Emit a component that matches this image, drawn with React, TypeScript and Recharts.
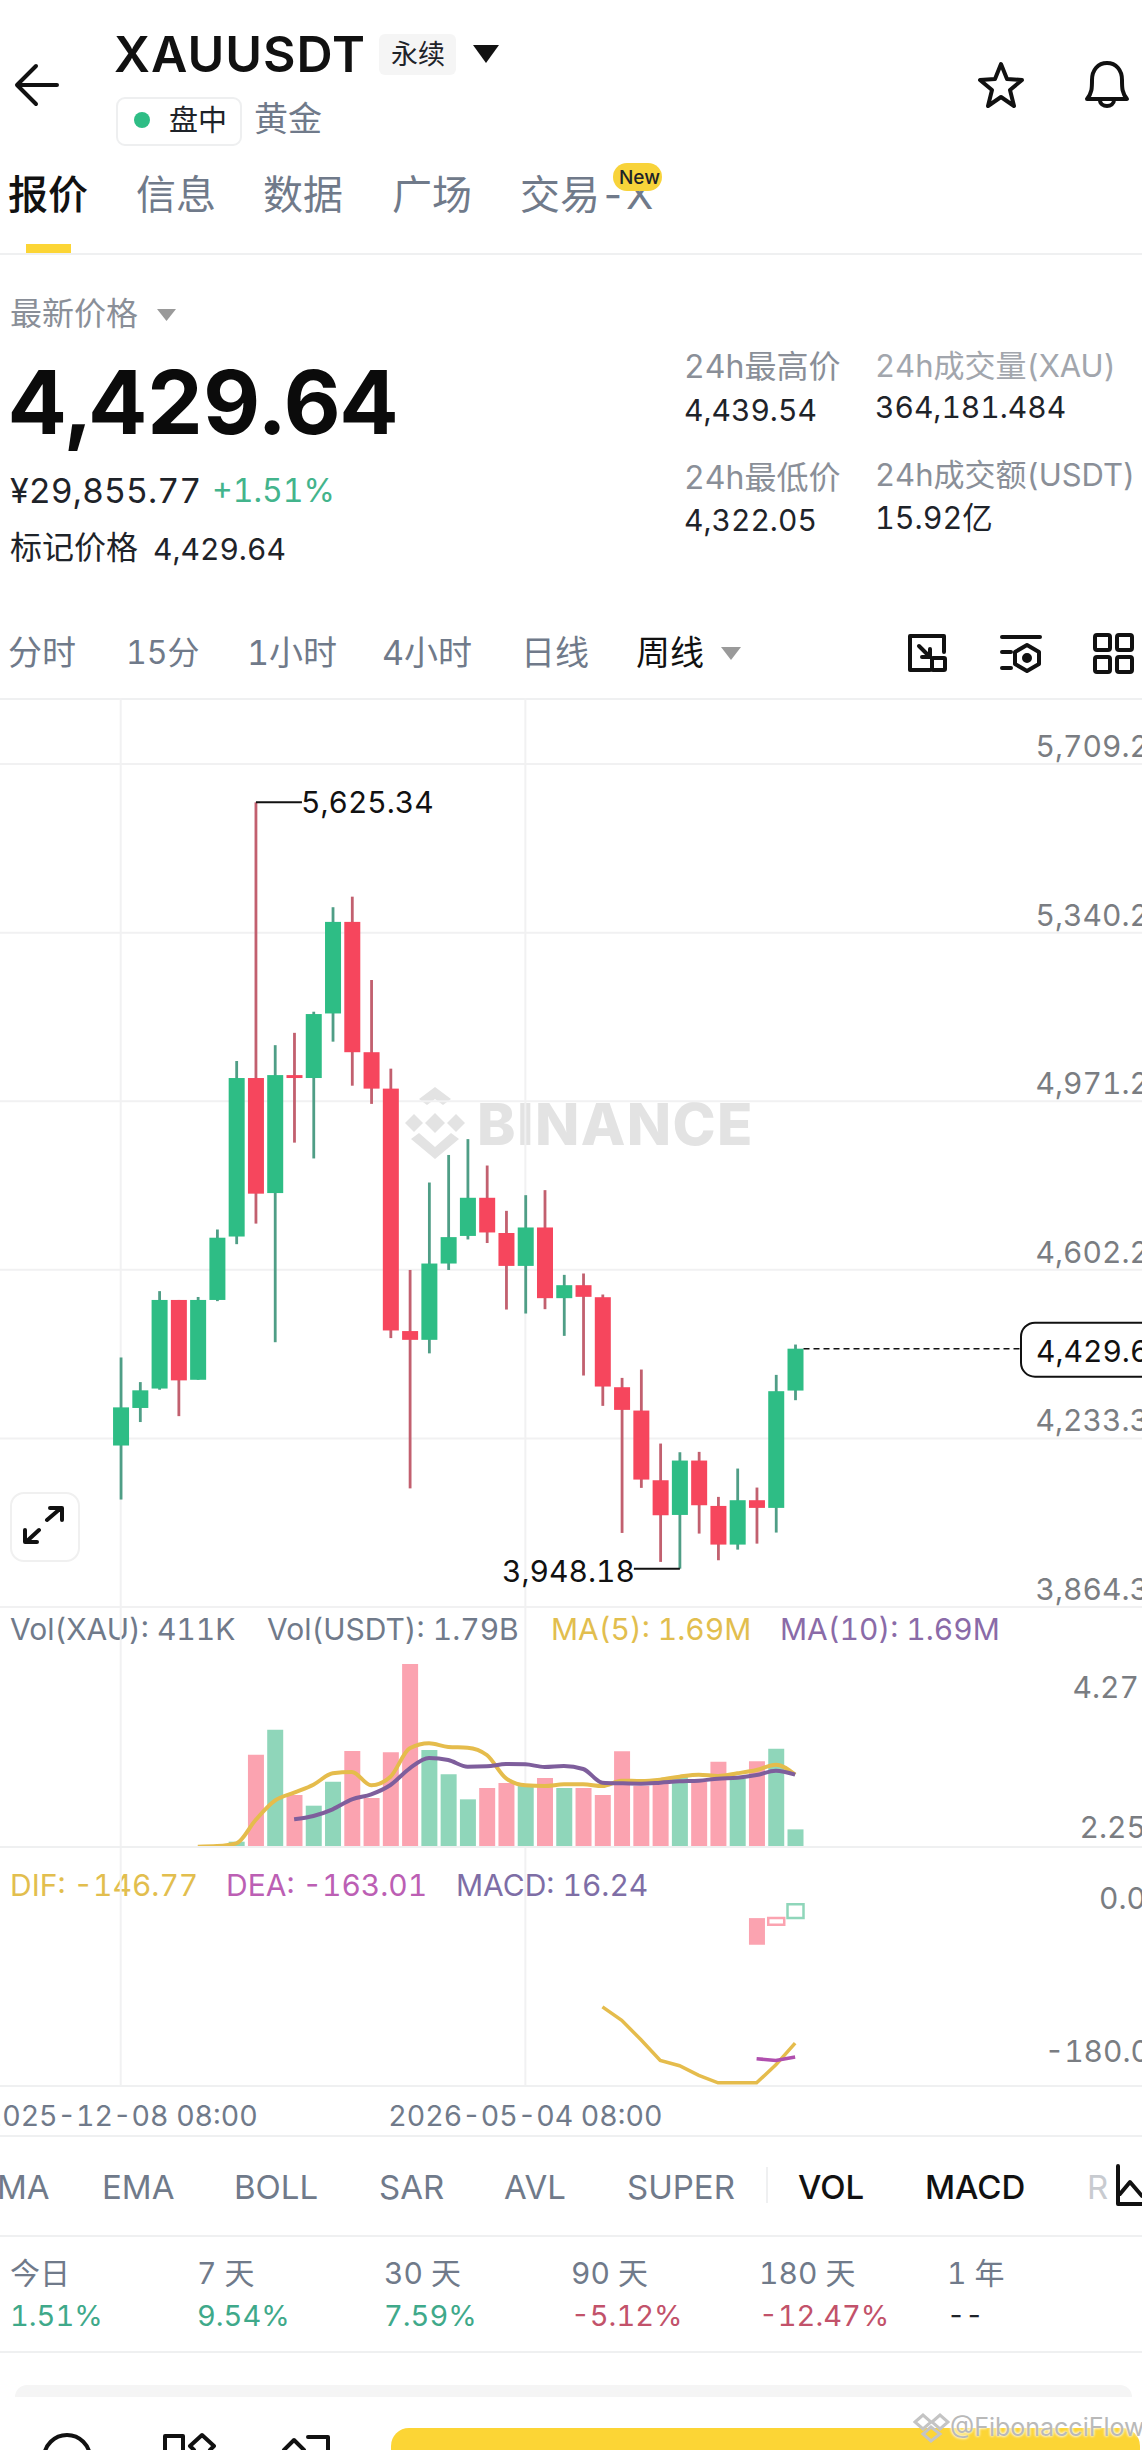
import React from 'react';
import {
    ComposedChart, Bar, Line, XAxis, YAxis, CartesianGrid, Cell,
} from 'recharts';

// weekly candles, first one is the week of 2025-12-08
const opens = [4217.7, 4299.9, 4342.4, 4536.3, 4361.6, 4536.3, 4675.1, 5022, 4770.2, 5028.4, 5022, 5163.3, 5363.7, 5078.5, 4998.8, 4468.2, 4449, 4616, 4676.4, 4759.9, 4682.8, 4610.8, 4694.9, 4540.2, 4568.6, 4542.3, 4345.3, 4294.2, 4141.7, 4065.8, 4184.8, 4085.5, 4000.9, 4098, 4081.2, 4338];
const highs = [4410.4, 4356.5, 4555.6, 4536.3, 4542.8, 4690.5, 5059.2, 5625.34, 5093.9, 5120.9, 5167.1, 5395.8, 5418.9, 5236.5, 5042.5, 4601.9, 4793.3, 4853.6, 4888.3, 4830.5, 4731.3, 4765.6, 4776.6, 4591.2, 4594.2, 4548.2, 4365.7, 4384, 4222, 4203, 4203.8, 4105.3, 4167.3, 4125.7, 4372.3, 4438.7];
const lows = [4099.5, 4269.1, 4339.8, 4282, 4361.6, 4533.7, 4658.4, 4703.4, 4443.8, 4880.6, 4846, 5101.6, 5005.2, 4965.4, 4452.8, 4123.9, 4419.4, 4601.9, 4668.7, 4660.9, 4515.3, 4506.6, 4516.1, 4457.7, 4370.9, 4304.5, 4026.4, 4125, 3963, 3948.18, 4025, 3966.6, 3989.9, 4003, 4027.2, 4316.9];
const closes = [4301.2, 4338.5, 4536.3, 4360.3, 4536.3, 4672.5, 5022, 4768.9, 5028.4, 5022, 5162, 5363.7, 5078.5, 4998.8, 4469.5, 4449, 4616, 4673.8, 4759.9, 4684, 4610.8, 4694.9, 4540.2, 4568.6, 4543.1, 4346.8, 4295.7, 4143.2, 4065.1, 4184.8, 4087, 4000.9, 4098, 4081.2, 4336.6, 4429.64];

const volumes = [2250, 4000, 6000, 8000, 10000, 14000, 124000, 2155000, 2738000, 1213000, 964000, 1525000, 2240000, 1143000, 2209000, 4270000, 2263000, 1696000, 1112000, 1377000, 1493000, 1431000, 1610000, 1377000, 1377000, 1213000, 2232000, 1431000, 1486000, 1641000, 1525000, 1991000, 1602000, 1999000, 2295000, 411000];
const ma5 = [null, null, null, null, 8000, 23000, 86000, 630000, 1081000, 1268000, 1454000, 1719000, 1750000, 1439000, 1641000, 2302000, 2419000, 2333000, 2318000, 2147000, 1602000, 1439000, 1423000, 1462000, 1462000, 1423000, 1548000, 1540000, 1571000, 1641000, 1688000, 1657000, 1719000, 1797000, 1921000, 1690000];
const ma10 = [null, null, null, null, null, null, null, null, null, 646000, 723000, 879000, 1112000, 1229000, 1447000, 1836000, 2077000, 2030000, 1874000, 1882000, 1937000, 1929000, 1867000, 1890000, 1820000, 1501000, 1486000, 1478000, 1501000, 1532000, 1548000, 1594000, 1618000, 1680000, 1781000, 1690000];

const dif = [null, null, null, null, null, null, null, null, null, null, null, null, null, null, null, null, null, null, null, null, null, null, null, null, null, -104.3, -120, -142.9, -167.2, -173.4, -184.7, -193.5, -193.5, -193.5, -172.3, -146.77];
const dea = [null, null, null, null, null, null, null, null, null, null, null, null, null, null, null, null, null, null, null, null, null, null, null, null, null, null, null, null, null, null, null, null, null, -165.1, -167.2, -163.01];
const macd = [null, null, null, null, null, null, null, null, null, null, null, null, null, null, null, null, null, null, null, null, null, null, null, null, null, null, null, null, null, null, null, null, null, -31.3, -7.8, 16.24];

const xTicks = [0, 21];
const xTickLabels = ['2025-12-08 08:00', '2026-05-04 08:00'];
const priceTicks = [5709.2, 5340.2, 4971.2, 4602.2, 4233.3, 3864.3];
const volTicks = [4270000, 2250];
const volTickLabels = ['4.27', '2.25'];
const macdTicks = [0, -180];
const macdTickLabels = ['0.0', '-180.0'];

const UP = '#2EBD85';
const DOWN = '#F6465D';
const UP_WICK = '#4F9E86';
const DOWN_WICK = '#C2606F';
const UP_SOFT = '#8FD6BA';
const DOWN_SOFT = '#FBA3B0';
const GRID = '#F1F1F2';
const GREY = '#707A8A';
const AXIS_GREY = '#7A7D82';
const LATIN = 'Inter, "Noto Sans CJK SC", sans-serif';
const TAB = { fontVariantNumeric: 'tabular-nums' };

const candles = opens.map((open, i) => ({ i, open, high: highs[i], low: lows[i], close: closes[i] }));
const volumeRows = volumes.map((vol, i) => ({ i, vol, ma5: ma5[i], ma10: ma10[i], up: closes[i] >= opens[i] }));
const macdRows = macd.map((m, i) => ({ i, m, dif: dif[i], dea: dea[i] }));

const X_DOMAIN: [number, number] = [-6.263, 53];
const LAST = candles.length - 1;
const HIGH_IDX = highs.indexOf(Math.max(...highs));
const LOW_IDX = lows.indexOf(Math.min(...lows));

const Candle = (props: any) => {
    const { x, y, width, height, payload } = props;
    const unit = height / (payload.high - payload.low);
    const py = (v: number) => y + (payload.high - v) * unit;
    const up = payload.close >= payload.open;
    const cx = x + width / 2;
    const top = py(Math.max(payload.open, payload.close));
    const bottom = py(Math.min(payload.open, payload.close));
    return (
        <g>
            <rect x={cx - 1.4} y={y} width={2.8} height={height} fill={up ? UP_WICK : DOWN_WICK} />
            <rect x={x} y={top} width={width} height={Math.max(bottom - top, 2)} fill={up ? UP : DOWN} />
            {payload.i === HIGH_IDX && (
                <g>
                    <line x1={cx} x2={cx + 46} y1={y} y2={y} stroke="#111" strokeWidth={2} />
                    <text x={cx + 45} y={y} dominantBaseline="central" fontFamily={LATIN} fontSize={30} fill="#111" style={TAB}>
                        {payload.high.toLocaleString('en-US')}
                    </text>
                </g>
            )}
            {payload.i === LOW_IDX && (
                <g>
                    <line x1={cx - 46} x2={cx} y1={y + height} y2={y + height} stroke="#111" strokeWidth={2} />
                    <text x={cx - 45} y={y + height + 2} textAnchor="end" dominantBaseline="central" fontFamily={LATIN} fontSize={30} fill="#111" style={TAB}>
                        {payload.low.toLocaleString('en-US')}
                    </text>
                </g>
            )}
            {payload.i === LAST && (
                <g>
                    <line x1={cx + 8} x2={1020} y1={top} y2={top} stroke="#111" strokeWidth={1.6} strokeDasharray="6 4" />
                    <rect x={1021} y={top - 26} width={170} height={54} rx={14} fill="#fff" stroke="#111" strokeWidth={2} />
                    <text x={1036} y={top + 2} dominantBaseline="central" fontFamily={LATIN} fontSize={30} fill="#111" style={TAB}>
                        {payload.close.toLocaleString('en-US')}
                    </text>
                </g>
            )}
        </g>
    );
};

// axis labels sit above their line, and run off the right edge of the screen
const axisTick = (labels: string[], ends: number[], offsets: number[], ticks: number[]) => (p: any) => {
    const k = ticks.indexOf(p.payload.value);
    return (
        <text x={ends[k]} y={p.y + offsets[k]} textAnchor="end" dominantBaseline="central" fontFamily={LATIN} fontSize={30} fill={AXIS_GREY} style={TAB}>
            {labels[k]}
        </text>
    );
};

const T = ({ x, y, size, color = '#1E2329', weight = 400, font = LATIN, spacing = 0, children }: any) => (
    <span style={{
        position: 'absolute', left: x, top: y, transform: 'translateY(-50%)', whiteSpace: 'nowrap',
        fontSize: size, color, fontWeight: weight, fontFamily: font, lineHeight: 1, letterSpacing: spacing, ...TAB,
    }}>{children}</span>
);

const Rule = ({ y }: any) => (
    <div style={{ position: 'absolute', left: 0, top: y, width: 1142, height: 2, background: '#EFF0F1' }} />
);

const Icon = ({ x, y, w, h, children }: any) => (
    <svg style={{ position: 'absolute', left: x, top: y }} width={w} height={h} viewBox={`0 0 ${w} ${h}`}
        fill="none" stroke="#111" strokeWidth={4} strokeLinecap="round" strokeLinejoin="round">
        {children}
    </svg>
);

const Tri = ({ x, y, w, h, color }: any) => (
    <svg style={{ position: 'absolute', left: x, top: y }} width={w} height={h}>
        <polygon points={`0,0 ${w},0 ${w / 2},${h}`} fill={color} />
    </svg>
);

const Header = () => (
    <>
        <Icon x={12} y={62} w={48} h={46}>
            <path d="M6 23H45M24 4L5 23L24 42" />
        </Icon>
        <T x={114} y={54} size={50} weight={600} color="#111" spacing={1}>XAUUSDT</T>
        <div style={{ position: 'absolute', left: 379, top: 34, width: 77, height: 41, background: '#F5F5F5', borderRadius: 6 }} />
        <T x={391} y={54} size={27}>永续</T>
        <Tri x={473} y={45} w={26} h={18} color="#111" />
        <div style={{ position: 'absolute', left: 116, top: 97, width: 122, height: 45, border: '2px solid #EEEFF0', borderRadius: 9 }} />
        <div style={{ position: 'absolute', left: 134, top: 112, width: 16, height: 16, background: UP, borderRadius: 8 }} />
        <T x={169} y={120} size={29}>盘中</T>
        <T x={254} y={119} size={34} color={GREY}>黄金</T>
        <Icon x={976} y={60} w={50} h={50}>
            <path d="M25 4L31 19L46 20L34 30L38 46L25 37L12 46L16 30L4 20L19 19Z" />
        </Icon>
        <Icon x={1082} y={58} w={50} h={54}>
            <path d="M5 41C10 35 10 30 10 22C10 12 16 5 25 5C34 5 40 12 40 22C40 30 40 35 45 41Z" />
            <path d="M18 42C18 50 32 50 32 42" />
        </Icon>

        <T x={8} y={195} size={40} weight={500} color="#111">报价</T>
        <T x={136} y={195} size={40} color={GREY}>信息</T>
        <T x={263} y={195} size={40} color={GREY}>数据</T>
        <T x={392} y={195} size={40} color={GREY}>广场</T>
        <T x={520} y={195} size={40} color={GREY}>交易-X</T>
        <div style={{ position: 'absolute', left: 613, top: 163, width: 49, height: 28, background: '#F8D33A', borderRadius: 14 }} />
        <T x={619} y={177} size={19} weight={500}>New</T>
        <div style={{ position: 'absolute', left: 26, top: 244, width: 45, height: 9, background: '#FCD535' }} />
        <Rule y={253} />

        <T x={10} y={314} size={32} color="#8A8F98">最新价格</T>
        <Tri x={157} y={309} w={19} h={12} color="#9A9A9A" />
        <T x={9} y={402} size={88} weight={700} color="#0B0B0B">4,429.64</T>
        <T x={10} y={491} size={34}>¥29,855.77</T>
        <T x={212} y={491} size={32} color="#43B48C">+1.51%</T>
        <T x={10} y={548} size={32}>标记价格</T>
        <T x={153} y={549} size={30}>4,429.64</T>

        <T x={684} y={367} size={32} color="#8A8F98">24h最高价</T>
        <T x={684} y={410} size={30}>4,439.54</T>
        <T x={684} y={478} size={32} color="#8A8F98">24h最低价</T>
        <T x={684} y={520} size={30}>4,322.05</T>
        <T x={875} y={365} size={31} color="#A2A6AD">24h成交量(XAU)</T>
        <T x={875} y={407} size={30}>364,181.484</T>
        <T x={875} y={474} size={31} color="#8A8F98">24h成交额(USDT)</T>
        <T x={875} y={518} size={30.5}>15.92亿</T>

        <T x={8} y={653} size={34} color={GREY}>分时</T>
        <T x={126} y={653} size={32} color={GREY}>15分</T>
        <T x={247} y={653} size={34} color={GREY}>1小时</T>
        <T x={382} y={653} size={34} color={GREY}>4小时</T>
        <T x={521} y={653} size={34} color={GREY}>日线</T>
        <T x={636} y={653} size={34} color="#111">周线</T>
        <Tri x={721} y={647} w={20} h={13} color="#9A9A9A" />
        <Icon x={906} y={632} w={42} h={42}>
            <path d="M24 38H4V4H38V20M13 14L24 25M24 17V25H16" />
            <rect x="26" y="26" width="13" height="12" rx="1" />
        </Icon>
        <Icon x={998} y={632} w={46} h={42}>
            <path d="M4 5H42M4 20H13M4 36H13" />
            <path d="M29 13L41 20V32L29 39L17 32V20Z" />
            <circle cx="29" cy="26" r="3" fill="#111" />
        </Icon>
        <Icon x={1092} y={632} w={42} h={42}>
            <rect x="3" y="3" width="15" height="15" rx="2" />
            <rect x="25" y="3" width="15" height="15" rx="2" />
            <rect x="3" y="25" width="15" height="15" rx="2" />
            <rect x="25" y="25" width="15" height="15" rx="2" />
        </Icon>
        <Rule y={698} />
    </>
);

const Footer = () => (
    <>
        <Rule y={1846} />
        <Rule y={2085} />
        <Rule y={2135} />
        <T x={-3} y={2187} size={33} color={GREY}>MA</T>
        <T x={102} y={2187} size={33} color={GREY}>EMA</T>
        <T x={234} y={2187} size={33} color={GREY}>BOLL</T>
        <T x={379} y={2187} size={33} color={GREY}>SAR</T>
        <T x={504} y={2187} size={33} color={GREY}>AVL</T>
        <T x={627} y={2187} size={33} color={GREY}>SUPER</T>
        <div style={{ position: 'absolute', left: 766, top: 2167, width: 2, height: 36, background: '#EFF0F1' }} />
        <T x={798} y={2187} size={33} weight={500} color="#111">VOL</T>
        <T x={925} y={2187} size={33} weight={500} color="#111">MACD</T>
        <T x={1087} y={2187} size={33} color="#C8CBD0">R</T>
        <Icon x={1116} y={2164} w={26} h={42}>
            <path d="M2 2V40H26M4 30L14 18L26 32" />
        </Icon>
        <Rule y={2235} />

        <T x={10} y={2273} size={30} color={GREY}>今日</T>
        <T x={197} y={2273} size={30} color={GREY}>7 天</T>
        <T x={384} y={2273} size={30} color={GREY}>30 天</T>
        <T x={571} y={2273} size={30} color={GREY}>90 天</T>
        <T x={759} y={2273} size={30} color={GREY}>180 天</T>
        <T x={947} y={2273} size={30} color={GREY}>1 年</T>
        <T x={10} y={2315} size={29} color="#3FA98A">1.51%</T>
        <T x={197} y={2315} size={29} color="#3FA98A">9.54%</T>
        <T x={384} y={2315} size={29} color="#3FA98A">7.59%</T>
        <T x={571} y={2315} size={29} color="#C2526A">-5.12%</T>
        <T x={759} y={2315} size={29} color="#C2526A">-12.47%</T>
        <T x={947} y={2315} size={28}>--</T>
        <Rule y={2351} />

        <div style={{ position: 'absolute', left: 15, top: 2385, width: 1117, height: 12, background: '#F5F5F5', borderRadius: '12px 12px 0 0' }} />
        <Icon x={40} y={2430} w={54} h={20}>
            <circle cx="27" cy="28" r="23" />
        </Icon>
        <Icon x={160} y={2432} w={56} h={18}>
            <path d="M5 18V4H23V18M34 18L30 14L42 3L54 14L50 18" />
        </Icon>
        <Icon x={280} y={2434} w={54} h={16}>
            <path d="M4 16L14 6L24 16M28 3H48V16" />
        </Icon>
        <div style={{ position: 'absolute', left: 391, top: 2428, width: 749, height: 40, background: '#FCD535', borderRadius: 18 }} />
        <svg style={{ position: 'absolute', left: 913, top: 2412 }} width={38} height={32} fill="none" stroke="#C4C4C4" strokeWidth={3}>
            <path d="M2 10L10 3L18 10L10 17ZM19 10L27 3L35 10L27 17ZM10 22L18 15L27 22L18 29Z" />
        </svg>
        <span style={{
            position: 'absolute', left: 950, top: 2427, transform: 'translateY(-50%)', fontFamily: LATIN, fontSize: 25, lineHeight: 1,
            color: '#B9B9B9', whiteSpace: 'nowrap', textShadow: '0 0 3px #fff, 0 0 3px #fff',
        }}>@FibonacciFlow</span>
    </>
);

export default function App() {
    return (
        <div style={{ position: 'absolute', left: 0, top: 0, width: 1142, height: 2450, overflow: 'hidden', background: '#fff' }}>
            <Header />

            {/* watermark goes under the candles */}
            <svg style={{ position: 'absolute', left: 405, top: 1087 }} width={60} height={72} viewBox="0 0 60 72" fill="#E3E3E3">
                <path d="M30 0L46 12L38 18L30 12L22 18L14 12Z" />
                <path d="M30 60L46 46L54 52L30 72L6 52L14 46Z" />
                <path d="M30 26L40 36L30 46L20 36Z" />
                <path d="M9 27L18 36L9 45L0 36Z" />
                <path d="M51 27L60 36L51 45L42 36Z" />
            </svg>
            <T x={477} y={1124} size={58} weight={800} color="#E3E3E3" spacing={1.4}>BINANCE</T>

            <div style={{ position: 'absolute', left: 0, top: 698 }}>
                <ComposedChart width={1142} height={911} data={candles} margin={{ top: 0, right: 0, bottom: 2, left: 0 }}>
                    <CartesianGrid stroke={GRID} strokeWidth={2} verticalValues={xTicks} horizontalValues={priceTicks} />
                    <XAxis dataKey="i" type="number" domain={X_DOMAIN} ticks={xTicks} hide allowDataOverflow />
                    <YAxis orientation="right" mirror width={60} domain={[3864.3, 5853.7]} ticks={priceTicks} interval={0}
                        axisLine={false} tickLine={false} allowDataOverflow
                        tick={axisTick(priceTicks.map((v) => v.toLocaleString('en-US')), priceTicks.map(() => 1149), priceTicks.map(() => -18), priceTicks)} />
                    <Bar dataKey={(d: any) => [d.low, d.high]} barSize={16} shape={<Candle />} isAnimationActive={false} />
                </ComposedChart>
            </div>

            {/* expand button */}
            <div style={{ position: 'absolute', left: 10, top: 1492, width: 66, height: 66, border: '2px solid #F0F0F0', borderRadius: 14, background: '#fff' }} />
            <Icon x={22} y={1505} w={42} h={40}>
                <path d="M25 15L39 3M28 3H40V15M17 25L4 37M3 25V37H15" />
            </Icon>

            <T x={10} y={1629} size={30} color={GREY}>Vol(XAU): 411K</T>
            <T x={267} y={1629} size={30} color={GREY}>Vol(USDT): 1.79B</T>
            <T x={551} y={1629} size={30} color="#E2BE4E">MA(5): 1.69M</T>
            <T x={780} y={1629} size={30} color="#8A6BA8">MA(10): 1.69M</T>

            <div style={{ position: 'absolute', left: 0, top: 1606.7 }}>
                <ComposedChart width={1142} height={240} data={volumeRows} margin={{ top: 0, right: 0, bottom: 0, left: 0 }}>
                    <CartesianGrid stroke={GRID} strokeWidth={2} horizontal={false} verticalValues={xTicks} />
                    <XAxis dataKey="i" type="number" domain={X_DOMAIN} ticks={xTicks} hide allowDataOverflow />
                    <YAxis orientation="right" mirror width={60} domain={[0, 5600000]} ticks={volTicks} interval={0}
                        axisLine={false} tickLine={false} allowDataOverflow
                        tick={axisTick(volTickLabels, [1139, 1146], [23, -20], volTicks)} />
                    <Bar dataKey="vol" barSize={16} isAnimationActive={false}>
                        {volumeRows.map((r) => <Cell key={r.i} fill={r.up ? UP_SOFT : DOWN_SOFT} />)}
                    </Bar>
                    <Line dataKey="ma5" type="monotone" stroke="#E5BC4C" strokeWidth={4} dot={false} isAnimationActive={false} />
                    <Line dataKey="ma10" type="monotone" stroke="#7E5E9C" strokeWidth={4} dot={false} isAnimationActive={false} />
                </ComposedChart>
            </div>

            <T x={10} y={1885} size={30} color="#E2BE4E">DIF: -146.77</T>
            <T x={226} y={1885} size={30} color="#BC5FB4">DEA: -163.01</T>
            <T x={456} y={1885} size={30} color="#7E6EA6">MACD: 16.24</T>

            <div style={{ position: 'absolute', left: 0, top: 1846.7 }}>
                <ComposedChart width={1142} height={288} data={macdRows} margin={{ top: 0, right: 0, bottom: 0, left: 0 }}>
                    <CartesianGrid stroke={GRID} strokeWidth={2} horizontal={false} verticalValues={xTicks} />
                    <XAxis dataKey="i" type="number" domain={X_DOMAIN} ticks={xTicks} height={50} interval={0}
                        axisLine={false} tickLine={false} allowDataOverflow tickMargin={15}
                        tickFormatter={(v: number) => xTickLabels[xTicks.indexOf(v)]}
                        tick={{ fill: GREY, fontSize: 28.5, fontFamily: LATIN, style: TAB }} />
                    <YAxis orientation="right" mirror width={60} domain={[-196, 83.5]} ticks={macdTicks} interval={0}
                        axisLine={false} tickLine={false} allowDataOverflow
                        tick={axisTick(macdTickLabels, [1146, 1150], [-20, -20], macdTicks)} />
                    <Bar dataKey="m" barSize={16} isAnimationActive={false}>
                        {macdRows.map((r, k) => {
                            const prev = k > 0 ? macdRows[k - 1].m : null;
                            const hollow = r.m != null && prev != null && r.m > prev;
                            const color = r.m != null && r.m >= 0 ? UP_SOFT : DOWN_SOFT;
                            return <Cell key={r.i} fill={hollow ? '#fff' : color} stroke={color} strokeWidth={hollow ? 2.5 : 0} />;
                        })}
                    </Bar>
                    <Line dataKey="dif" stroke="#E5BC4C" strokeWidth={3.5} dot={false} isAnimationActive={false} />
                    <Line dataKey="dea" stroke="#B04FAE" strokeWidth={3.5} dot={false} isAnimationActive={false} />
                </ComposedChart>
            </div>

            <Footer />
        </div>
    );
}
